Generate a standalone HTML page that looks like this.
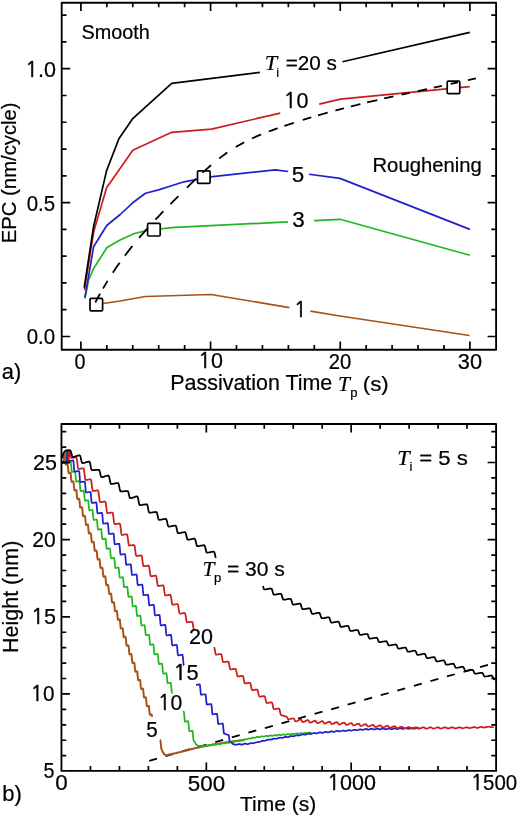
<!DOCTYPE html>
<html><head><meta charset="utf-8"><title>EPC vs passivation time</title>
<style>html,body{margin:0;padding:0;background:#fff;width:520px;height:818px;overflow:hidden}svg{display:block}</style>
</head><body>
<svg width="520" height="818" viewBox="0 0 520 818">
<rect width="520" height="818" fill="#fff"/>
<polyline points="93.6,305 106.6,303 120,301 145.5,296.5 210.9,294.5 289.4,307.57" fill="none" stroke="#a8521a" stroke-width="1.7" stroke-linejoin="round"/>
<polyline points="310.3,311.05 340,316 469.5,335.5" fill="none" stroke="#a8521a" stroke-width="1.7" stroke-linejoin="round"/>
<polyline points="84.9,298.6 88.6,280 93.6,268.5 107,247.5 119.6,240.2 134.4,233.5 146.2,230.6 171.5,227.6 210.4,225.7 287.9,221.87" fill="none" stroke="#20b820" stroke-width="1.7" stroke-linejoin="round"/>
<polyline points="314.1,220.58 340,219.3 469.9,255.2" fill="none" stroke="#20b820" stroke-width="1.7" stroke-linejoin="round"/>
<polyline points="84.9,297.6 93.6,246.8 106.7,225.5 120.2,214.5 132.7,202.8 145.5,193.2 158.5,189.9 171.5,185.8 184,181.8 210.4,176.8 275.3,169.8 288.2,171.51" fill="none" stroke="#2020cc" stroke-width="1.7" stroke-linejoin="round"/>
<polyline points="309,174.28 340,178.4 469.9,229.4" fill="none" stroke="#2020cc" stroke-width="1.7" stroke-linejoin="round"/>
<polyline points="84.5,290 93.6,232 106.6,187.8 132.8,150.3 171.7,132.3 211.5,129.1 280.3,113.1" fill="none" stroke="#cc1c1c" stroke-width="1.7" stroke-linejoin="round"/>
<polyline points="319.2,104.05 340.5,99.1 469.7,86.6" fill="none" stroke="#cc1c1c" stroke-width="1.7" stroke-linejoin="round"/>
<polyline points="84.2,287.6 93.6,226.5 106.6,170.6 118.9,138.8 133,118.3 171.7,83.4 259.9,72.36" fill="none" stroke="#000" stroke-width="1.7" stroke-linejoin="round"/>
<polyline points="342.5,61.77 469.8,32.4" fill="none" stroke="#000" stroke-width="1.7" stroke-linejoin="round"/>
<rect x="90" y="298.3" width="12.6" height="12.6" rx="1.2" fill="#fff" stroke="#000" stroke-width="1.7"/>
<rect x="147.6" y="223.4" width="12.6" height="12.6" rx="1.2" fill="#fff" stroke="#000" stroke-width="1.7"/>
<rect x="197.5" y="170.8" width="12.6" height="12.6" rx="1.2" fill="#fff" stroke="#000" stroke-width="1.7"/>
<rect x="447.2" y="81.1" width="12.6" height="12.6" rx="1.2" fill="#fff" stroke="#000" stroke-width="1.7"/>
<path d="M95.3,302.47 L96.9,299.45 L98.5,296.5 L100.1,293.61 M103,288.54 L104.53,285.93 L106.07,283.37 L107.6,280.87 M112.8,272.73 L114.18,270.65 L115.56,268.61 L116.94,266.61 L118.32,264.63 L119.7,262.69 M124.9,255.61 L126.15,253.96 L127.4,252.34 L128.65,250.73 L129.9,249.14 L131.15,247.57 L132.4,246.01 M139.2,237.8 L140.39,236.41 L141.57,235.03 L142.76,233.66 L143.94,232.3 L145.13,230.96 L146.31,229.62 L147.5,228.3 M155.4,219.69 L156.54,218.47 L157.69,217.26 L158.83,216.06 L159.97,214.86 L161.11,213.67 L162.26,212.49 L163.4,211.31 M170.4,204.16 L171.54,203.01 L172.69,201.86 L173.83,200.71 L174.97,199.56 L176.11,198.42 L177.26,197.27 L178.4,196.13 M186.9,187.69 L188.08,186.53 L189.25,185.38 L190.43,184.23 L191.6,183.09 L192.78,181.95 L193.95,180.82 L195.12,179.69 L196.3,178.57 M202.5,172.78 L203.73,171.66 L204.96,170.55 L206.19,169.44 L207.41,168.35 L208.64,167.27 L209.87,166.2 L211.1,165.15 M219.2,158.5 L220.36,157.6 L221.51,156.72 L222.67,155.85 L223.83,154.99 L224.99,154.15 L226.14,153.32 L227.3,152.51 M235.8,147.02 L237,146.3 L238.2,145.6 L239.4,144.92 L240.6,144.25 L241.8,143.59 L243,142.94 L244.2,142.31 M251.9,138.51 L253.06,137.98 L254.22,137.45 L255.39,136.94 L256.55,136.43 L257.71,135.93 L258.88,135.43 L260.04,134.95 L261.2,134.47 M268.8,131.5 L270.07,131.02 L271.34,130.55 L272.61,130.09 L273.89,129.63 L275.16,129.17 L276.43,128.72 L277.7,128.27 M284.4,125.95 L285.6,125.54 L286.8,125.13 L288,124.73 L289.2,124.33 L290.4,123.93 L291.6,123.54 L292.8,123.14 L294,122.75 M302.7,119.99 L303.93,119.6 L305.16,119.22 L306.39,118.85 L307.61,118.47 L308.84,118.1 L310.07,117.73 L311.3,117.36 M318,115.38 L319.21,115.03 L320.43,114.68 L321.64,114.34 L322.85,113.99 L324.06,113.65 L325.27,113.31 L326.49,112.97 L327.7,112.63 M335.4,110.52 L336.63,110.19 L337.86,109.86 L339.09,109.54 L340.31,109.21 L341.54,108.89 L342.77,108.57 L344,108.25 M350.8,106.5 L352,106.2 L353.2,105.9 L354.4,105.6 L355.6,105.3 L356.8,105 L358,104.7 L359.2,104.41 L360.4,104.11 M367.1,102.49 L368.23,102.22 L369.37,101.95 L370.5,101.68 L371.63,101.41 L372.77,101.14 L373.9,100.88 L375.03,100.61 L376.17,100.35 L377.3,100.08 M384.2,98.49 L385.36,98.23 L386.52,97.96 L387.69,97.7 L388.85,97.44 L390.01,97.18 L391.18,96.91 L392.34,96.65 L393.5,96.39 M401.6,94.6 L402.76,94.34 L403.91,94.09 L405.07,93.83 L406.23,93.58 L407.39,93.33 L408.54,93.07 L409.7,92.82 M417.7,91.09 L418.86,90.84 L420.02,90.59 L421.19,90.34 L422.35,90.08 L423.51,89.83 L424.68,89.58 L425.84,89.33 L427,89.09 M433.9,87.6 L435.04,87.36 L436.19,87.11 L437.33,86.87 L438.47,86.62 L439.61,86.38 L440.76,86.13 L441.9,85.89 M450.7,83.99 L451.92,83.73 L453.13,83.46 L454.35,83.2 L455.57,82.94 L456.78,82.67 L458,82.41 M467.9,80.23 L469.04,79.98 L470.19,79.73 L471.33,79.47 L472.47,79.22 L473.61,78.96 L474.76,78.71 L475.9,78.45" fill="none" stroke="#000" stroke-width="1.8"/>
<rect x="61.7" y="2.7" width="434.4" height="347" fill="none" stroke="#000" stroke-width="1.85" stroke-linejoin="round"/>
<path d="M80.9,349.7v-8.2M80.9,2.7v8.2M106.83,349.7v-4.6M106.83,2.7v4.6M132.77,349.7v-4.6M132.77,2.7v4.6M158.7,349.7v-4.6M158.7,2.7v4.6M184.64,349.7v-4.6M184.64,2.7v4.6M210.57,349.7v-8.2M210.57,2.7v8.2M236.5,349.7v-4.6M236.5,2.7v4.6M262.44,349.7v-4.6M262.44,2.7v4.6M288.37,349.7v-4.6M288.37,2.7v4.6M314.31,349.7v-4.6M314.31,2.7v4.6M340.24,349.7v-8.2M340.24,2.7v8.2M366.17,349.7v-4.6M366.17,2.7v4.6M392.11,349.7v-4.6M392.11,2.7v4.6M418.04,349.7v-4.6M418.04,2.7v4.6M443.98,349.7v-4.6M443.98,2.7v4.6M469.91,349.7v-8.2M469.91,2.7v8.2M61.7,336.5h8.5M496.1,336.5h-8.5M61.7,309.72h4.8M496.1,309.72h-4.8M61.7,282.94h4.8M496.1,282.94h-4.8M61.7,256.16h4.8M496.1,256.16h-4.8M61.7,229.38h4.8M496.1,229.38h-4.8M61.7,202.6h8.5M496.1,202.6h-8.5M61.7,175.82h4.8M496.1,175.82h-4.8M61.7,149.04h4.8M496.1,149.04h-4.8M61.7,122.26h4.8M496.1,122.26h-4.8M61.7,95.48h4.8M496.1,95.48h-4.8M61.7,68.7h8.5M496.1,68.7h-8.5M61.7,41.92h4.8M496.1,41.92h-4.8M61.7,15.14h4.8M496.1,15.14h-4.8" stroke="#000" stroke-width="1.7" fill="none"/>
<line x1="149.2" y1="760.8" x2="496" y2="662.6" stroke="#000" stroke-width="1.8" stroke-dasharray="8.2 9.0" stroke-dashoffset="0.12"/>
<polyline points="62,462.3 63.9,462.3 64.35,452.98 64.6,452.68 64.6,452.68 64.9,454.41 65.2,458.59 65.5,462.76 65.8,464.49 66.08,464.47 66.37,464.39 66.65,464.29 66.93,464.19 67.22,464.12 67.5,464.09 67.5,464.09 67.8,465.41 68.1,468.61 68.4,471.8 68.7,473.13 68.98,473.1 69.27,473.03 69.55,472.93 69.83,472.83 70.12,472.75 70.4,472.73 70.4,472.73 70.7,474.05 71,477.24 71.3,480.44 71.6,481.76 71.88,481.73 72.17,481.66 72.45,481.56 72.73,481.46 73.02,481.39 73.3,481.36 73.3,481.36 73.6,482.68 73.9,485.88 74.2,489.07 74.5,490.39 74.78,490.37 75.07,490.29 75.35,490.19 75.63,490.09 75.92,490.02 76.2,489.99 76.2,489.99 76.5,491.32 76.8,494.51 77.1,497.7 77.4,499.03 77.68,499 77.97,498.93 78.25,498.83 78.53,498.73 78.82,498.65 79.1,498.63 79.1,498.63 79.4,499.95 79.7,503.14 80,506.34 80.3,507.66 80.58,507.63 80.87,507.56 81.15,507.46 81.43,507.36 81.72,507.29 82,507.26 82,507.26 82.3,508.58 82.6,511.78 82.9,514.97 83.2,516.29 83.48,516.27 83.77,516.19 84.05,516.09 84.33,515.99 84.62,515.92 84.9,515.89 84.9,515.89 85.2,517.22 85.5,520.41 85.8,523.6 86.1,524.93 86.38,524.9 86.67,524.83 86.95,524.73 87.23,524.63 87.52,524.55 87.8,524.53 87.8,524.53 88.1,525.85 88.4,529.04 88.7,532.24 89,533.56 89.28,533.53 89.57,533.46 89.85,533.36 90.13,533.26 90.42,533.19 90.7,533.16 90.7,533.16 91,534.48 91.3,537.68 91.6,540.87 91.9,542.19 92.18,542.17 92.47,542.09 92.75,541.99 93.03,541.89 93.32,541.82 93.6,541.79 93.6,541.79 93.9,543.12 94.2,546.31 94.5,549.5 94.8,550.83 95.08,550.8 95.37,550.73 95.65,550.63 95.93,550.53 96.22,550.45 96.5,550.43 96.5,550.43 96.8,551.75 97.1,554.94 97.4,558.14 97.7,559.46 97.98,559.43 98.27,559.36 98.55,559.26 98.83,559.16 99.12,559.09 99.4,559.06 99.4,559.06 99.7,560.38 100,563.58 100.3,566.77 100.6,568.09 100.88,568.07 101.17,567.99 101.45,567.89 101.73,567.79 102.02,567.72 102.3,567.69 102.3,567.69 102.6,569.02 102.9,572.21 103.2,575.4 103.5,576.73 103.78,576.7 104.07,576.63 104.35,576.53 104.63,576.43 104.92,576.35 105.2,576.33 105.2,576.33 105.5,577.65 105.8,580.84 106.1,584.04 106.4,585.36 106.68,585.33 106.97,585.26 107.25,585.16 107.53,585.06 107.82,584.99 108.1,584.96 108.1,584.96 108.4,586.28 108.7,589.48 109,592.67 109.3,593.99 109.58,593.97 109.87,593.89 110.15,593.79 110.43,593.69 110.72,593.62 111,593.59 111,593.59 111.3,594.92 111.6,598.11 111.9,601.3 112.2,602.63 112.48,602.6 112.77,602.53 113.05,602.43 113.33,602.33 113.62,602.25 113.9,602.23 113.9,602.23 114.2,603.55 114.5,606.74 114.8,609.94 115.1,611.26 115.38,611.23 115.67,611.16 115.95,611.06 116.23,610.96 116.52,610.89 116.8,610.86 116.8,610.86 117.1,612.18 117.4,615.38 117.7,618.57 118,619.89 118.28,619.87 118.57,619.79 118.85,619.69 119.13,619.59 119.42,619.52 119.7,619.49 119.7,619.49 120,620.82 120.3,624.01 120.6,627.2 120.9,628.53 121.18,628.5 121.47,628.43 121.75,628.33 122.03,628.23 122.32,628.15 122.6,628.13 122.6,628.13 122.9,629.45 123.2,632.64 123.5,635.84 123.8,637.16 124.08,637.13 124.37,637.06 124.65,636.96 124.93,636.86 125.22,636.79 125.5,636.76 125.5,636.76 125.8,638.08 126.1,641.28 126.4,644.47 126.7,645.79 126.98,645.77 127.27,645.69 127.55,645.59 127.83,645.49 128.12,645.42 128.4,645.39 128.4,645.39 128.7,646.72 129,649.91 129.3,653.11 129.6,654.43 129.88,654.4 130.17,654.33 130.45,654.23 130.73,654.13 131.02,654.05 131.3,654.03 131.3,654.03 131.6,655.35 131.9,658.54 132.2,661.74 132.5,663.06 132.78,663.03 133.07,662.96 133.35,662.86 133.63,662.76 133.92,662.69 134.2,662.66 134.2,662.66 134.5,663.98 134.8,667.18 135.1,670.37 135.4,671.69 135.68,671.67 135.97,671.59 136.25,671.49 136.53,671.39 136.82,671.32 137.1,671.29 137.1,671.29 137.4,672.62 137.7,675.81 138,679.01 138.3,680.33 138.58,680.3 138.87,680.23 139.15,680.13 139.43,680.03 139.72,679.96 140,679.93 140,679.93 140.3,681.25 140.6,684.45 140.9,687.64 141.2,688.96 141.48,688.94 141.77,688.86 142.05,688.76 142.33,688.66 142.62,688.59 142.9,688.56 142.9,688.56 143.2,689.88 143.5,693.08 143.8,696.27 144.1,697.6 144.38,697.57 144.67,697.5 144.95,697.4 145.23,697.3 145.52,697.22 145.8,697.2 145.8,697.2 146.1,698.52 146.4,701.71 146.7,704.91 147,706.23 147.28,706.2 147.57,706.13 147.85,706.03 148.13,705.93 148.42,705.86 148.7,705.83 148.7,705.83 149,707.15 149.3,710.35 149.6,713.54 149.9,714.86 150.18,714.84 150.47,714.76 150.75,714.66 151.03,714.56 151.32,714.49 151.6,714.46 151.6,714.46 151.9,715.79 152,716.85" fill="none" stroke="#a8521a" stroke-width="2.0" stroke-linejoin="round" stroke-linecap="butt"/>
<polyline points="160,740.39 160.02,740.39 160.3,740.36 160.3,740.36 160.6,741.69 160.9,744.88 161.2,748.07 161.5,749.4 161.78,749.6 162.07,750.17 162.35,750.95 162.63,751.72 162.92,752.29 163.2,752.5 163.2,752.5 163.5,752.8 163.8,753.51 164.1,754.23 164.4,754.53 164.68,754.57 164.97,754.67 165.25,754.82 165.53,754.97 165.82,755.07 166.1,755.11 166.1,755.11 166.4,755.12 166.7,755.14 167,755.16 167.3,755.16 167.58,755.12 167.87,754.99 168.15,754.82 168.43,754.65 168.72,754.52 169,754.47 169,754.47 169.3,754.48 169.6,754.49 169.9,754.51 170.2,754.51 170.48,754.47 170.77,754.34 171.05,754.17 171.33,754 171.62,753.87 171.9,753.82 171.9,753.82 172.2,753.83 172.5,753.84 172.8,753.85 173.1,753.85 173.38,753.8 173.67,753.68 173.95,753.51 174.23,753.34 174.52,753.21 174.8,753.16 174.8,753.16 175.1,753.17 175.4,753.17 175.7,753.17 176,753.17 176.28,753.13 176.57,753 176.85,752.83 177.13,752.66 177.42,752.54 177.7,752.49 177.7,752.49 178,752.49 178.3,752.49 178.6,752.49 178.9,752.49 179.18,752.45 179.47,752.32 179.75,752.16 180.03,751.99 180.32,751.87 180.6,751.83 180.6,751.83 180.9,751.82 181.2,751.8 181.5,751.79 181.8,751.78 182.08,751.74 182.37,751.62 182.65,751.45 182.93,751.29 183.22,751.16 183.5,751.12 183.5,751.12 183.8,751.11 184.1,751.08 184.4,751.05 184.7,751.03 184.98,750.99 185.27,750.87 185.55,750.7 185.83,750.53 186.12,750.41 186.4,750.36 186.4,750.36 186.7,750.35 187,750.31 187.3,750.28 187.6,750.26 187.88,750.22 188.17,750.09 188.45,749.92 188.73,749.75 189.02,749.63 189.3,749.58 189.3,749.58 189.6,749.57 189.9,749.54 190.2,749.51 190.5,749.5 190.78,749.45 191.07,749.32 191.35,749.15 191.63,748.98 191.92,748.85 192.2,748.81 192.2,748.81 192.5,748.8 192.8,748.78 193.1,748.77 193.4,748.76 193.68,748.71 193.97,748.58 194.25,748.41 194.53,748.24 194.82,748.11 195.1,748.06 195.1,748.06 195.4,748.06 195.7,748.07 196,748.07 196.3,748.08 196.58,748.03 196.87,747.9 197.15,747.73 197.43,747.56 197.72,747.43 198,747.38 198,747.38 198.3,747.4 198.6,747.42 198.9,747.45 199.2,747.46 199.48,747.42 199.77,747.3 200.05,747.13 200.33,746.96 200.62,746.84 200.9,746.8 200.9,746.8 201.2,746.81 201.5,746.84 201.8,746.87 202.1,746.88 202.38,746.84 202.67,746.72 202.95,746.55 203.23,746.39 203.52,746.27 203.8,746.22 203.8,746.22 204.1,746.24 204.4,746.27 204.7,746.3 205,746.31 205.28,746.27 205.57,746.15 205.85,745.98 206.13,745.82 206.42,745.7 206.7,745.66 206.7,745.66 207,745.67 207.3,745.7 207.6,745.74 207.9,745.75 208.18,745.71 208.47,745.59 208.75,745.43 209.03,745.26 209.32,745.14 209.6,745.1 209.6,745.1 209.9,745.12 210.2,745.15 210.5,745.19 210.8,745.21 211.08,745.16 211.37,745.04 211.65,744.88 211.93,744.72 212.22,744.6 212.5,744.56 212.5,744.56 212.8,744.57 213.1,744.61 213.4,744.66 213.7,744.67 213.98,744.63 214.27,744.51 214.55,744.35 214.83,744.19 215.12,744.07 215.4,744.03 215.4,744.03 215.7,744.04 216,744.09 216.3,744.14 216.6,744.15 216.88,744.11 217.17,743.99 217.45,743.83 217.73,743.67 218.02,743.55 218.3,743.51 218.3,743.51 218.6,743.53 218.9,743.58 219.2,743.63 219.5,743.65 219.78,743.61 220.07,743.49 220.35,743.33 220.63,743.17 220.92,743.06 221.2,743.01 221.2,743.01 221.5,743.04 221.8,743.09 222.1,743.15 222.4,743.17 222.68,743.13 222.97,743.01 223.25,742.85 223.53,742.69 223.82,742.58 224.1,742.53 224.1,742.53 224.4,742.56 224.7,742.62 225,742.68 225.3,742.71 225.58,742.67 225.87,742.55 226.15,742.39 226.43,742.23 226.72,742.12 227,742.07 227,742.07 227.3,742.1 227.6,742.17 227.9,742.24 228.2,742.27 228.48,742.23 228.77,742.11 229.05,741.95 229.33,741.79 229.62,741.68 229.9,741.64 229.9,741.64 230.2,741.67 230.5,741.74 230.8,741.82 231.1,741.85 231.38,741.81 231.67,741.69 231.95,741.54 232.23,741.38 232.52,741.26 232.8,741.22 232.8,741.22 233.1,741.26 233.4,741.34 233.7,741.42 234,741.46 234.28,741.42 234.57,741.3 234.85,741.14 235.13,740.99 235.42,740.87 235.7,740.83 235.7,740.83 236,740.87 236.3,740.96 236.6,741.05 236.9,741.09 237.18,741.05 237.47,740.94 237.75,740.78 238.03,740.62 238.32,740.51 238.6,740.47 238.6,740.47 238.9,740.51 239.2,740.61 239.5,740.71 239.8,740.76 240.08,740.71 240.37,740.6 240.65,740.44 240.93,740.29 241.22,740.18 241.5,740.13 241.5,740.13 241.8,740.18 242.1,740.29 242.4,740.4 242.7,740.45 242.98,740.41 243.27,740.29 243.55,740.14 243.83,739.98 244.12,739.87 244.4,739.83 244.4,739.83 244.7,739.88" fill="none" stroke="#a8521a" stroke-width="2.0" stroke-linejoin="round" stroke-linecap="butt"/>
<polyline points="62,462.3 65.6,462.3 66.05,451.79 66.3,451.49 66.3,451.49 66.62,453.08 66.95,456.92 67.27,460.76 67.6,462.35 68.11,462.31 68.62,462.22 69.12,462.1 69.63,461.97 70.14,461.88 70.65,461.85 70.65,461.85 70.97,463.33 71.3,466.9 71.62,470.47 71.95,471.95 72.46,471.92 72.97,471.83 73.47,471.7 73.98,471.58 74.49,471.49 75,471.45 75,471.45 75.32,472.93 75.65,476.51 75.97,480.08 76.3,481.56 76.81,481.53 77.32,481.43 77.82,481.31 78.33,481.18 78.84,481.09 79.35,481.06 79.35,481.06 79.67,482.54 80,486.11 80.32,489.68 80.65,491.16 81.16,491.13 81.67,491.04 82.17,490.91 82.68,490.79 83.19,490.7 83.7,490.66 83.7,490.66 84.02,492.14 84.35,495.72 84.67,499.29 85,500.77 85.51,500.74 86.02,500.64 86.52,500.52 87.03,500.39 87.54,500.3 88.05,500.27 88.05,500.27 88.37,501.75 88.7,505.32 89.02,508.89 89.35,510.37 89.86,510.34 90.37,510.25 90.87,510.12 91.38,510 91.89,509.91 92.4,509.87 92.4,509.87 92.72,511.35 93.05,514.93 93.37,518.5 93.7,519.98 94.21,519.95 94.72,519.85 95.22,519.73 95.73,519.6 96.24,519.51 96.75,519.48 96.75,519.48 97.07,520.96 97.4,524.53 97.72,528.11 98.05,529.59 98.56,529.55 99.07,529.46 99.57,529.34 100.08,529.21 100.59,529.12 101.1,529.09 101.1,529.09 101.42,530.57 101.75,534.14 102.07,537.71 102.4,539.19 102.91,539.16 103.42,539.07 103.92,538.94 104.43,538.82 104.94,538.72 105.45,538.69 105.45,538.69 105.77,540.17 106.1,543.74 106.42,547.32 106.75,548.8 107.26,548.76 107.77,548.67 108.27,548.55 108.78,548.42 109.29,548.33 109.8,548.3 109.8,548.3 110.12,549.78 110.45,553.35 110.77,556.92 111.1,558.4 111.61,558.37 112.12,558.28 112.62,558.15 113.13,558.03 113.64,557.93 114.15,557.9 114.15,557.9 114.47,559.38 114.8,562.95 115.12,566.53 115.45,568.01 115.96,567.97 116.47,567.88 116.97,567.76 117.48,567.63 117.99,567.54 118.5,567.51 118.5,567.51 118.82,568.99 119.15,572.56 119.47,576.13 119.8,577.61 120.31,577.58 120.82,577.49 121.32,577.36 121.83,577.24 122.34,577.15 122.85,577.11 122.85,577.11 123.17,578.59 123.5,582.16 123.82,585.74 124.15,587.22 124.66,587.18 125.17,587.09 125.67,586.97 126.18,586.84 126.69,586.75 127.2,586.72 127.2,586.72 127.52,588.2 127.85,591.77 128.17,595.34 128.5,596.82 129.01,596.79 129.52,596.7 130.02,596.57 130.53,596.45 131.04,596.36 131.55,596.32 131.55,596.32 131.87,597.8 132.2,601.38 132.52,604.95 132.85,606.43 133.36,606.39 133.87,606.3 134.37,606.18 134.88,606.05 135.39,605.96 135.9,605.93 135.9,605.93 136.22,607.41 136.55,610.98 136.87,614.55 137.2,616.03 137.71,616 138.22,615.91 138.72,615.78 139.23,615.66 139.74,615.57 140.25,615.53 140.25,615.53 140.57,617.01 140.9,620.59 141.22,624.16 141.55,625.64 142.06,625.6 142.57,625.51 143.07,625.39 143.58,625.26 144.09,625.17 144.6,625.14 144.6,625.14 144.92,626.62 145.25,630.19 145.57,633.76 145.9,635.24 146.41,635.21 146.92,635.12 147.42,634.99 147.93,634.87 148.44,634.78 148.95,634.74 148.95,634.74 149.27,636.22 149.6,639.8 149.92,643.37 150.25,644.85 150.76,644.82 151.27,644.72 151.77,644.6 152.28,644.47 152.79,644.38 153.3,644.35 153.3,644.35 153.62,645.83 153.95,649.4 154.27,652.97 154.6,654.45 155.11,654.42 155.62,654.33 156.12,654.2 156.63,654.08 157.14,653.99 157.65,653.95 157.65,653.95 157.97,655.43 158.3,659.01 158.62,662.58 158.95,664.06 159.46,664.03 159.97,663.93 160.47,663.81 160.98,663.68 161.49,663.59 162,663.56 162,663.56 162.32,665.04 162.65,668.61 162.97,672.19 163.3,673.66 163.81,673.63 164.32,673.54 164.82,673.41 165.33,673.29 165.84,673.2 166.35,673.16 166.35,673.16 166.67,674.64 167,678.22 167.32,681.79 167.65,683.27 168.16,683.24 168.67,683.15 169.17,683.02 169.68,682.9 170.19,682.8 170.7,682.77 170.7,682.77 171.02,684.25 171.35,687.82 171.67,691.4 172,692.88 172.51,692.84 172.8,692.79" fill="none" stroke="#20b820" stroke-width="1.75" stroke-linejoin="round" stroke-linecap="butt"/>
<polyline points="182.8,711.7 183.24,711.62 183.75,711.59 183.75,711.59 184.07,713.07 184.4,716.64 184.72,720.21 185.05,721.69 185.56,721.66 186.07,721.57 186.57,721.44 187.08,721.32 187.59,721.22 188.1,721.19 188.1,721.19 188.42,722.67 188.75,726.24 189.07,729.82 189.4,731.3 189.91,731.26 190.42,731.17 190.92,731.05 191.43,730.92 191.94,730.83 192.45,730.8 192.45,730.8 192.77,732.28 193.1,735.85 193.42,739.42 193.75,740.9 194.26,741.17 194.77,741.91 195.27,742.92 195.78,743.92 196.29,744.66 196.8,744.93 196.8,744.93 197.12,745.08 197.45,745.45 197.77,745.83 198.1,745.98 198.61,745.96 199.12,745.92 199.62,745.86 200.13,745.8 200.64,745.76 201.15,745.74 201.15,745.74 201.47,745.82 201.8,746.01 202.12,746.19 202.45,746.27 202.96,746.21 203.47,746.03 203.97,745.79 204.48,745.54 204.99,745.37 205.5,745.3 205.5,745.3 205.82,745.37 206.15,745.55 206.47,745.72 206.8,745.79 207.31,745.72 207.82,745.55 208.32,745.31 208.83,745.06 209.34,744.89 209.85,744.82 209.85,744.82 210.17,744.89 210.5,745.04 210.82,745.2 211.15,745.27 211.66,745.2 212.17,745.03 212.67,744.79 213.18,744.55 213.69,744.37 214.2,744.31 214.2,744.31 214.52,744.37 214.85,744.51 215.17,744.65 215.5,744.71 216.01,744.64 216.52,744.47 217.02,744.23 217.53,743.99 218.04,743.82 218.55,743.76 218.55,743.76 218.87,743.81 219.2,743.94 219.52,744.07 219.85,744.12 220.36,744.06 220.87,743.88 221.37,743.65 221.88,743.41 222.39,743.24 222.9,743.17 222.9,743.17 223.22,743.22 223.55,743.34 223.87,743.45 224.2,743.5 224.71,743.44 225.22,743.27 225.72,743.04 226.23,742.8 226.74,742.63 227.25,742.57 227.25,742.57 227.57,742.61 227.9,742.71 228.22,742.81 228.55,742.85 229.06,742.79 229.57,742.63 230.07,742.41 230.58,742.19 231.09,742.03 231.6,741.97 231.6,741.97 231.92,741.99 232.25,742.04 232.57,742.09 232.9,742.11 233.41,742.05 233.92,741.89 234.42,741.67 234.93,741.44 235.44,741.28 235.95,741.22 235.95,741.22 236.27,741.23 236.6,741.24 236.92,741.25 237.25,741.26 237.76,741.2 238.27,741.03 238.77,740.8 239.28,740.58 239.79,740.41 240.3,740.35 240.3,740.35 240.62,740.35 240.95,740.35 241.27,740.35 241.6,740.35 242.11,740.28 242.62,740.11 243.12,739.88 243.63,739.65 244.14,739.48 244.65,739.41 244.65,739.41 244.97,739.42 245.3,739.42 245.62,739.43 245.95,739.43 246.46,739.36 246.97,739.19 247.47,738.95 247.98,738.71 248.49,738.54 249,738.47 249,738.47 249.32,738.49 249.65,738.52 249.97,738.55 250.3,738.56 250.81,738.49 251.32,738.32 251.82,738.07 252.33,737.83 252.84,737.65 253.35,737.58 253.35,737.58 253.67,737.62 254,737.69 254.32,737.77 254.65,737.8 255.16,737.74 255.67,737.56 256.17,737.31 256.68,737.07 257.19,736.89 257.7,736.82 257.7,736.82 258.02,736.88 258.35,737.01 258.67,737.14 259,737.2 259.51,737.14 260.02,736.97 260.52,736.74 261.03,736.5 261.54,736.33 262.05,736.27 262.05,736.27 262.37,736.34 262.7,736.49 263.02,736.65 263.35,736.71 263.86,736.65 264.37,736.49 264.87,736.26 265.38,736.03 265.89,735.87 266.4,735.81 266.4,735.81 266.72,735.88 267.05,736.05 267.37,736.22 267.7,736.29 268.21,736.23 268.72,736.07 269.22,735.84 269.73,735.62 270.24,735.46 270.75,735.4 270.75,735.4 271.07,735.47 271.4,735.65 271.72,735.83 272.05,735.91 272.56,735.85 273.07,735.69 273.57,735.47 274.08,735.25 274.59,735.09 275.1,735.03 275.1,735.03 275.42,735.1 275.75,735.29 276.07,735.48 276.4,735.55 276.91,735.5 277.42,735.34 277.92,735.12 278.43,734.91 278.94,734.75 279.45,734.69 279.45,734.69 279.77,734.77 280.1,734.95 280.42,735.14 280.75,735.22 281.26,735.16 281.77,735 282.27,734.79 282.78,734.58 283.29,734.42 283.8,734.37 283.8,734.37 284.12,734.44 284.45,734.63 284.77,734.81 285.1,734.88 285.61,734.83 286.12,734.67 286.62,734.46 287.13,734.25 287.64,734.1 288.15,734.04 288.15,734.04 288.47,734.12 288.8,734.29 289.12,734.47 289.45,734.55 289.96,734.49 290.47,734.33 290.97,734.12 291.48,733.91 291.99,733.76 292.5,733.7 292.5,733.7 292.82,733.78 293.15,733.95 293.47,734.13 293.8,734.21 294.31,734.15 294.82,734 295.32,733.79 295.83,733.58 296.34,733.43 296.85,733.37 296.85,733.37 297.17,733.45 297.5,733.63 297.82,733.8 298.15,733.88 298.66,733.82 299.17,733.67 299.67,733.46 300.18,733.26 300.69,733.11 301.2,733.05 301.2,733.05 301.52,733.13 301.85,733.31 302.18,733.49 302.5,733.56 303.01,733.51 303.52,733.36 304.02,733.15 304.53,732.95 305.04,732.8 305.55,732.74 305.55,732.74 305.88,732.82 306.2,733 306.53,733.18 306.85,733.25 307.36,733.2 307.87,733.05 308.38,732.85 308.88,732.64 309.39,732.49 309.9,732.44 309.9,732.44 310.23,732.52 310.55,732.7 310.88,732.88 311.2,732.95 311.71,732.9" fill="none" stroke="#20b820" stroke-width="1.75" stroke-linejoin="round" stroke-linecap="butt"/>
<polyline points="62,462.3 66.8,462.3 67.25,451.63 67.5,451.33 67.5,451.33 67.83,452.74 68.15,456.15 68.47,459.56 68.8,460.97 69.54,460.94 70.28,460.85 71.02,460.73 71.77,460.61 72.51,460.52 73.25,460.49 73.25,460.49 73.58,462.1 73.9,466 74.22,469.9 74.55,471.51 75.29,471.48 76.03,471.39 76.77,471.27 77.52,471.15 78.26,471.06 79,471.03 79,471.03 79.33,472.64 79.65,476.52 79.97,480.4 80.3,482.01 81.04,481.98 81.78,481.89 82.52,481.77 83.27,481.65 84.01,481.56 84.75,481.53 84.75,481.53 85.08,483.13 85.4,487.01 85.72,490.88 86.05,492.48 86.79,492.45 87.53,492.36 88.27,492.24 89.02,492.12 89.76,492.03 90.5,492 90.5,492 90.83,493.6 91.15,497.45 91.47,501.31 91.8,502.91 92.54,502.88 93.28,502.79 94.02,502.67 94.77,502.55 95.51,502.46 96.25,502.43 96.25,502.43 96.58,504.02 96.9,507.87 97.22,511.71 97.55,513.31 98.29,513.27 99.03,513.19 99.77,513.07 100.52,512.94 101.26,512.86 102,512.82 102,512.82 102.33,514.41 102.65,518.25 102.97,522.08 103.3,523.67 104.04,523.63 104.78,523.55 105.52,523.43 106.27,523.3 107.01,523.22 107.75,523.18 107.75,523.18 108.08,524.77 108.4,528.59 108.72,532.41 109.05,533.99 109.79,533.96 110.53,533.87 111.27,533.75 112.02,533.63 112.76,533.54 113.5,533.51 113.5,533.51 113.83,535.09 114.15,538.9 114.47,542.71 114.8,544.28 115.54,544.25 116.28,544.16 117.02,544.04 117.77,543.92 118.51,543.83 119.25,543.8 119.25,543.8 119.58,545.37 119.9,549.17 120.22,552.97 120.55,554.54 121.29,554.51 122.03,554.42 122.77,554.3 123.52,554.18 124.26,554.09 125,554.06 125,554.06 125.33,555.63 125.65,559.41 125.97,563.2 126.3,564.76 127.04,564.73 127.78,564.64 128.53,564.52 129.27,564.4 130.01,564.31 130.75,564.28 130.75,564.28 131.07,565.84 131.4,569.62 131.72,573.39 132.05,574.95 132.79,574.92 133.53,574.83 134.28,574.71 135.02,574.59 135.76,574.5 136.5,574.47 136.5,574.47 136.82,576.03 137.15,579.79 137.47,583.55 137.8,585.11 138.54,585.08 139.28,584.99 140.03,584.87 140.77,584.75 141.51,584.66 142.25,584.63 142.25,584.63 142.57,586.18 142.9,589.93 143.22,593.68 143.55,595.24 144.29,595.2 145.03,595.11 145.78,594.99 146.52,594.87 147.26,594.78 148,594.75 148,594.75 148.32,596.3 148.65,600.04 148.97,603.78 149.3,605.33 150.04,605.3 150.78,605.21 151.53,605.09 152.27,604.96 153.01,604.88 153.75,604.84 153.75,604.84 154.07,606.39 154.4,610.12 154.72,613.84 155.05,615.39 155.79,615.35 156.53,615.27 157.28,615.15 158.02,615.02 158.76,614.94 159.5,614.9 159.5,614.9 159.82,616.44 160.15,620.16 160.47,623.88 160.8,625.42 161.54,625.38 162.28,625.29 163.03,625.17 163.77,625.05 164.51,624.96 165.25,624.93 165.25,624.93 165.57,626.47 165.9,630.17 166.22,633.88 166.55,635.41 167.29,635.38 168.03,635.29 168.78,635.17 169.52,635.05 170.26,634.96 171,634.93 171,634.93 171.32,636.46 171.65,640.15 171.97,643.85 172.3,645.38 173.04,645.34 173.78,645.26 174.53,645.13 175.27,645.01 176.01,644.92 176.75,644.89 176.75,644.89 177.07,646.42 177.4,650.1 177.72,653.78 178.05,655.31 178.79,655.28 179.53,655.19 180.28,655.07 181.02,654.95 181.76,654.86 182.5,654.83 182.5,654.83 182.82,656.35 183.15,660.02 183.47,663.69 183.8,665.21 183.9,665.21" fill="none" stroke="#2020cc" stroke-width="1.75" stroke-linejoin="round" stroke-linecap="butt"/>
<polyline points="196,684.9 196.04,684.9 196.78,684.81 197.53,684.69 198.27,684.57 199.01,684.48 199.75,684.45 199.75,684.45 200.07,685.95 200.4,689.59 200.72,693.24 201.05,694.74 201.79,694.71 202.53,694.62 203.28,694.5 204.02,694.38 204.76,694.29 205.5,694.26 205.5,694.26 205.82,695.76 206.15,699.39 206.47,703.02 206.8,704.53 207.54,704.49 208.28,704.41 209.03,704.28 209.77,704.16 210.51,704.07 211.25,704.04 211.25,704.04 211.57,705.54 211.9,709.16 212.22,712.78 212.55,714.28 213.29,714.25 214.03,714.16 214.78,714.04 215.52,713.92 216.26,713.83 217,713.8 217,713.8 217.32,715.29 217.65,718.9 217.97,722.51 218.3,724.01 219.04,723.97 219.78,723.89 220.53,723.76 221.27,723.64 222.01,723.55 222.75,723.52 222.75,723.52 223.07,725.01 223.4,728.61 223.72,732.21 224.05,733.7 224.79,733.78 225.53,734 226.28,734.3 227.02,734.6 227.76,734.82 228.5,734.9 228.5,734.9 228.82,735.89 229.15,738.29 229.47,740.7 229.8,741.69 230.54,741.88 231.28,742.39 232.03,743.08 232.77,743.78 233.51,744.29 234.25,744.47 234.25,744.47 234.57,744.51 234.9,744.59 235.22,744.68 235.55,744.71 236.29,744.67 237.03,744.53 237.78,744.35 238.52,744.16 239.26,744.03 240,743.98 240,743.98 240.32,744.09 240.65,744.34 240.97,744.59 241.3,744.69 242.04,744.62 242.78,744.42 243.53,744.14 244.27,743.86 245.01,743.66 245.75,743.59 245.75,743.59 246.07,743.67 246.4,743.86 246.72,744.05 247.05,744.13 247.79,744.07 248.53,743.9 249.28,743.66 250.02,743.43 250.76,743.25 251.5,743.19 251.5,743.19 251.82,743.2 252.15,743.23 252.47,743.26 252.8,743.27 253.54,743.2 254.28,743.01 255.03,742.75 255.77,742.49 256.51,742.31 257.25,742.24 257.25,742.24 257.57,742.21 257.9,742.15 258.23,742.08 258.55,742.06 259.29,741.98 260.03,741.76 260.78,741.46 261.52,741.16 262.26,740.94 263,740.86 263,740.86 263.32,740.85 263.65,740.82 263.98,740.79 264.3,740.78 265.04,740.7 265.78,740.47 266.53,740.15 267.27,739.83 268.01,739.6 268.75,739.52 268.75,739.52 269.07,739.54 269.4,739.61 269.73,739.67 270.05,739.69 270.79,739.62 271.53,739.4 272.28,739.11 273.02,738.82 273.76,738.61 274.5,738.53 274.5,738.53 274.82,738.57 275.15,738.65 275.48,738.74 275.8,738.78 276.54,738.7 277.28,738.49 278.03,738.21 278.77,737.93 279.51,737.72 280.25,737.64 280.25,737.64 280.57,737.68 280.9,737.78 281.23,737.88 281.55,737.93 282.29,737.85 283.03,737.65 283.78,737.37 284.52,737.1 285.26,736.89 286,736.82 286,736.82 286.32,736.86 286.65,736.96 286.98,737.07 287.3,737.11 288.04,737.04 288.78,736.84 289.53,736.57 290.27,736.3 291.01,736.1 291.75,736.03 291.75,736.03 292.07,736.07 292.4,736.17 292.73,736.27 293.05,736.31 293.79,736.23 294.53,736.04 295.28,735.77 296.02,735.5 296.76,735.3 297.5,735.23 297.5,735.23 297.82,735.27 298.15,735.37 298.48,735.47 298.8,735.51 299.54,735.44 300.28,735.24 301.03,734.97 301.77,734.7 302.51,734.5 303.25,734.43 303.25,734.43 303.57,734.48 303.9,734.59 304.23,734.7 304.55,734.74 305.29,734.67 306.03,734.47 306.78,734.2 307.52,733.93 308.26,733.73 309,733.66 309,733.66 309.32,733.72 309.65,733.85 309.98,733.98 310.3,734.03 311.04,733.96 311.78,733.76 312.53,733.49 313.27,733.22 314.01,733.02 314.75,732.95 314.75,732.95 315.07,733.02 315.4,733.17 315.73,733.33 316.05,733.4 316.79,733.32 317.53,733.13 318.28,732.87 319.02,732.6 319.76,732.41 320.5,732.34 320.5,732.34 320.82,732.41 321.15,732.59 321.48,732.77 321.8,732.84 322.54,732.77 323.28,732.59 324.03,732.33 324.77,732.07 325.51,731.88 326.25,731.81 326.25,731.81 326.57,731.89 326.9,732.08 327.23,732.27 327.55,732.35 328.29,732.28 329.03,732.1 329.78,731.84 330.52,731.59 331.26,731.41 332,731.34 332,731.34 332.32,731.42 332.65,731.62 332.98,731.82 333.3,731.9 334.04,731.84 334.78,731.65 335.53,731.4 336.27,731.15 337.01,730.97 337.75,730.91 337.75,730.91 338.07,730.99 338.4,731.19 338.73,731.4 339.05,731.48 339.79,731.42 340.53,731.24 341.28,730.99 342.02,730.75 342.76,730.57 343.5,730.5 343.5,730.5 343.82,730.59 344.15,730.79 344.48,731 344.8,731.08 345.54,731.02 346.28,730.84 347.03,730.61 347.77,730.37 348.51,730.19 349.25,730.13 349.25,730.13 349.57,730.21 349.9,730.41 350.23,730.6 350.55,730.68 351.29,730.62 352.03,730.45 352.78,730.21 353.52,729.97 354.26,729.8 355,729.73 355,729.73 355.32,729.81 355.65,730.01 355.98,730.2 356.3,730.28 357.04,730.22 357.78,730.04 358.53,729.8 359.27,729.56 360.01,729.38 360.75,729.31 360.75,729.31 361.07,729.4 361.4,729.62 361.73,729.84 362.05,729.93 362.79,729.86 363.53,729.68 364.28,729.44 365.02,729.19 365.76,729.01 366.5,728.95 366.5,728.95 366.82,729.05 367.15,729.31 367.48,729.56 367.8,729.67 368.54,729.61 369.28,729.44 370.03,729.2 370.77,728.97 371.51,728.8 372.25,728.73 372.25,728.73 372.57,728.85 372.9,729.12 373.23,729.39 373.55,729.5 374.29,729.44 375.03,729.27 375.78,729.04 376.52,728.82 377.26,728.65 378,728.59 378,728.59 378.32,728.7 378.65,728.98 378.98,729.25 379.3,729.37 380.04,729.31 380.78,729.15 381.53,728.92 382.27,728.7 383.01,728.54 383.75,728.48 383.75,728.48 384.07,728.59 384.4,728.87 384.73,729.15 385.05,729.26 385.79,729.2 386.53,729.04 387.28,728.82 388.02,728.61 388.76,728.45 389.5,728.39 389.5,728.39 389.82,728.5 390.15,728.77 390.48,729.05 390.8,729.16 391.54,729.1 392.28,728.94 393.03,728.73 393.77,728.52 394.51,728.36 395.25,728.3 395.25,728.3 395.57,728.41 395.9,728.68 396.23,728.94 396.55,729.05 397.29,728.99 398.03,728.84 398.78,728.63 399.52,728.42 400.26,728.26 401,728.2 401,728.2 401.32,728.31 401.65,728.57 401.98,728.82 402.3,728.93 403.04,728.87 403.78,728.72 404.53,728.51 405.27,728.3 406.01,728.15 406.75,728.1 406.75,728.1 407.07,728.2 407.4,728.45 407.73,728.7 408.05,728.81 408.79,728.75 409.53,728.6 410.28,728.4 411.02,728.19 411.76,728.04 412.5,727.99 412.5,727.99 412.82,728.09 413.15,728.34 413.48,728.58 413.8,728.69 414.54,728.63 415.28,728.49 416.03,728.28 416.77,728.08 417.51,727.93 418.25,727.88 418.25,727.88 418.57,727.98 418.9,728.22 419.23,728.47 419.55,728.57" fill="none" stroke="#2020cc" stroke-width="1.75" stroke-linejoin="round" stroke-linecap="butt"/>
<polyline points="62,462.3 68.4,462.3 68.85,451.53 69.1,451.23 69.1,451.23 69.6,452.22 70.1,454.6 70.6,456.98 71.1,457.97 71.97,457.93 72.85,457.81 73.72,457.64 74.59,457.48 75.47,457.36 76.34,457.31 76.34,457.31 76.84,459.01 77.34,463.11 77.84,467.21 78.34,468.91 79.21,468.87 80.09,468.75 80.96,468.6 81.83,468.44 82.71,468.32 83.58,468.28 83.58,468.28 84.08,469.99 84.58,474.11 85.08,478.24 85.58,479.94 86.45,479.9 87.33,479.79 88.2,479.64 89.07,479.49 89.95,479.37 90.82,479.33 90.82,479.33 91.32,481.05 91.82,485.18 92.32,489.31 92.82,491.02 93.69,490.98 94.57,490.87 95.44,490.73 96.31,490.58 97.19,490.47 98.06,490.43 98.06,490.43 98.56,492.14 99.06,496.27 99.56,500.39 100.06,502.1 100.93,502.06 101.81,501.96 102.68,501.82 103.55,501.67 104.43,501.57 105.3,501.53 105.3,501.53 105.8,503.23 106.3,507.33 106.8,511.43 107.3,513.13 108.17,513.09 109.05,512.99 109.92,512.86 110.79,512.72 111.67,512.62 112.54,512.58 112.54,512.58 113.04,514.27 113.54,518.33 114.04,522.39 114.54,524.07 115.41,524.03 116.29,523.94 117.16,523.8 118.03,523.67 118.91,523.58 119.78,523.54 119.78,523.54 120.28,525.2 120.78,529.21 121.28,533.22 121.78,534.88 122.65,534.84 123.53,534.75 124.4,534.62 125.27,534.49 126.15,534.4 127.02,534.37 127.02,534.37 127.52,536 128.02,539.94 128.52,543.88 129.02,545.52 129.89,545.48 130.77,545.39 131.64,545.27 132.51,545.15 133.39,545.06 134.26,545.02 134.26,545.02 134.76,546.63 135.26,550.49 135.76,554.36 136.26,555.96 137.13,555.93 138.01,555.84 138.88,555.72 139.75,555.6 140.63,555.51 141.5,555.48 141.5,555.48 142,557.05 142.5,560.83 143,564.62 143.5,566.19 144.37,566.16 145.25,566.07 146.12,565.95 146.99,565.83 147.87,565.74 148.74,565.71 148.74,565.71 149.24,567.24 149.74,570.94 150.24,574.64 150.74,576.18 151.61,576.14 152.49,576.06 153.36,575.94 154.23,575.82 155.11,575.74 155.98,575.7 155.98,575.7 156.48,577.2 156.98,580.81 157.48,584.42 157.98,585.91 158.85,585.88 159.73,585.79 160.6,585.68 161.47,585.56 162.35,585.47 163.22,585.44 163.22,585.44 163.72,586.9 164.22,590.42 164.72,593.93 165.22,595.39 166.09,595.36 166.97,595.27 167.84,595.16 168.71,595.04 169.59,594.95 170.46,594.92 170.46,594.92 170.96,596.34 171.46,599.76 171.96,603.19 172.46,604.61 173.33,604.57 174.21,604.49 175.08,604.37 175.95,604.25 176.83,604.17 177.7,604.14 177.7,604.14 178.2,605.52 178.7,608.85 179.2,612.18 179.7,613.56 180.57,613.53 181.45,613.44 182.32,613.32 183.19,613.21 184.07,613.12 184.94,613.09 184.94,613.09 185.44,614.43 185.94,617.67 186.44,620.91 186.94,622.26 187.81,622.22 188.69,622.14 189.56,622.02 190.43,621.9 191.31,621.81 192.18,621.78 192.18,621.78 192.68,623.09 193.18,626.24 193.68,629.39 193.8,629.7" fill="none" stroke="#cc1c1c" stroke-width="1.75" stroke-linejoin="round" stroke-linecap="butt"/>
<polyline points="214.2,647.08 214.4,647.56 214.9,650.46 215.4,653.37 215.9,654.57 216.77,654.54 217.65,654.45 218.52,654.32 219.39,654.2 220.27,654.11 221.14,654.08 221.14,654.08 221.64,655.25 222.14,658.08 222.64,660.9 223.14,662.07 224.01,662.04 224.89,661.95 225.76,661.82 226.63,661.7 227.51,661.61 228.38,661.58 228.38,661.58 228.88,662.72 229.38,665.47 229.88,668.22 230.38,669.36 231.25,669.33 232.13,669.24 233,669.11 233.87,668.99 234.75,668.9 235.62,668.86 235.62,668.86 236.12,669.97 236.62,672.66 237.12,675.34 237.62,676.45 238.49,676.41 239.37,676.32 240.24,676.2 241.11,676.07 241.99,675.98 242.86,675.94 242.86,675.94 243.36,677.03 243.86,679.64 244.36,682.26 244.86,683.34 245.73,683.31 246.61,683.21 247.48,683.08 248.35,682.96 249.23,682.86 250.1,682.83 250.1,682.83 250.6,683.89 251.1,686.44 251.6,688.99 252.1,690.05 252.97,690.01 253.85,689.92 254.72,689.79 255.59,689.66 256.47,689.57 257.34,689.53 257.34,689.53 257.84,690.56 258.34,693.05 258.84,695.54 259.34,696.57 260.21,696.54 261.09,696.44 261.96,696.31 262.83,696.19 263.71,696.09 264.58,696.06 264.58,696.06 265.08,697.06 265.58,699.49 266.08,701.93 266.58,702.93 267.45,702.9 268.33,702.8 269.2,702.67 270.07,702.54 270.95,702.45 271.82,702.41 271.82,702.41 272.32,703.39 272.82,705.77 273.32,708.15 273.82,709.13 274.69,709.09 275.57,709 276.44,708.87 277.31,708.74 278.19,708.64 279.06,708.61 279.06,708.61 279.56,709.57 280.06,711.89 280.56,714.21 281.06,715.17 281.93,715.26 282.81,715.51 283.68,715.84 284.55,716.18 285.43,716.43 286.3,716.52 286.3,716.52 286.8,716.91 287.3,717.86 287.8,718.81 288.3,719.2 289.17,719.15 290.05,719.01 290.92,718.82 291.79,718.63 292.67,718.5 293.54,718.44 293.54,718.44 294.04,718.88 294.54,719.95 295.04,721.01 295.54,721.45 296.41,721.31 297.29,720.93 298.16,720.42 299.03,719.91 299.91,719.54 300.78,719.4 300.78,719.4 301.28,719.8 301.78,720.77 302.28,721.74 302.78,722.14 303.65,722 304.53,721.62 305.4,721.11 306.27,720.6 307.15,720.22 308.02,720.08 308.02,720.08 308.52,720.46 309.02,721.38 309.52,722.29 310.02,722.67 310.89,722.54 311.77,722.17 312.64,721.66 313.51,721.15 314.39,720.78 315.26,720.64 315.26,720.64 315.76,721.01 316.26,721.89 316.76,722.78 317.26,723.14 318.13,723.01 319.01,722.64 319.88,722.14 320.75,721.64 321.63,721.27 322.5,721.13 322.5,721.13 323,721.49 323.5,722.36 324,723.24 324.5,723.6 325.37,723.47 326.25,723.11 327.12,722.62 327.99,722.13 328.87,721.77 329.74,721.64 329.74,721.64 330.24,722 330.74,722.85 331.24,723.71 331.74,724.06 332.61,723.93 333.49,723.59 334.36,723.11 335.23,722.64 336.11,722.29 336.98,722.16 336.98,722.16 337.48,722.51 337.98,723.34 338.48,724.17 338.98,724.51 339.85,724.39 340.73,724.05 341.6,723.59 342.47,723.12 343.35,722.78 344.22,722.66 344.22,722.66 344.72,723 345.22,723.81 345.72,724.62 346.22,724.96 347.09,724.84 347.97,724.51 348.84,724.05 349.71,723.6 350.59,723.27 351.46,723.15 351.46,723.15 351.96,723.48 352.46,724.28 352.96,725.09 353.46,725.42 354.33,725.3 355.21,724.97 356.08,724.53 356.95,724.08 357.83,723.75 358.7,723.63 358.7,723.63 359.2,723.97 359.7,724.78 360.2,725.59 360.7,725.92 361.57,725.81 362.45,725.49 363.32,725.07 364.19,724.64 365.07,724.33 365.94,724.21 365.94,724.21 366.44,724.54 366.94,725.34 367.44,726.14 367.94,726.47 368.81,726.36 369.69,726.07 370.56,725.67 371.43,725.27 372.31,724.97 373.18,724.87 373.18,724.87 373.68,725.17 374.18,725.91 374.68,726.65 375.18,726.96 376.05,726.86 376.93,726.57 377.8,726.17 378.67,725.78 379.55,725.49 380.42,725.38 380.42,725.38 380.92,725.67 381.42,726.38 381.92,727.09 382.42,727.38 383.29,727.28 384.17,726.99 385.04,726.61 385.91,726.22 386.79,725.93 387.66,725.83 387.66,725.83 388.16,726.12 388.66,726.8 389.16,727.49 389.66,727.77 390.53,727.67 391.41,727.4 392.28,727.03 393.15,726.66 394.03,726.39 394.9,726.29 394.9,726.29 395.4,726.56 395.9,727.22 396.4,727.87 396.9,728.14 397.77,728.04 398.65,727.78 399.52,727.43 400.39,727.08 401.27,726.82 402.14,726.73 402.14,726.73 402.64,726.98 403.14,727.58 403.64,728.18 404.14,728.43 405.01,728.34 405.89,728.1 406.76,727.76 407.63,727.43 408.51,727.18 409.38,727.09 409.38,727.09 409.88,727.31 410.38,727.85 410.88,728.39 411.38,728.61 412.25,728.52 413.13,728.29 414,727.97 414.87,727.64 415.75,727.41 416.62,727.32 416.62,727.32 417.12,727.52 417.62,727.99 418.12,728.46 418.62,728.66 419.49,728.57 420.37,728.34 421.24,728.01 422.11,727.69 422.99,727.45 423.86,727.36 423.86,727.36 424.36,727.55 424.86,728 425.36,728.44 425.86,728.63 426.73,728.54 427.61,728.32 428.48,728 429.35,727.69 430.23,727.46 431.1,727.38 431.1,727.38 431.6,727.55 432.1,727.98 432.6,728.4 433.1,728.58 433.97,728.5 434.85,728.28 435.72,727.98 436.59,727.68 437.47,727.46 438.34,727.38 438.34,727.38 438.84,727.54 439.34,727.95 439.84,728.35 440.34,728.52 441.21,728.44 442.09,728.23 442.96,727.94 443.83,727.65 444.71,727.44 445.58,727.36 445.58,727.36 446.08,727.52 446.58,727.9 447.08,728.29 447.58,728.44 448.45,728.37 449.33,728.17 450.2,727.89 451.07,727.62 451.95,727.41 452.82,727.34 452.82,727.34 453.32,727.49 453.82,727.85 454.32,728.21 454.82,728.36 455.69,728.29 456.57,728.1 457.44,727.85 458.31,727.59 459.19,727.4 460.06,727.33 460.06,727.33 460.56,727.47 461.06,727.79 461.56,728.11 462.06,728.25 462.93,728.18 463.81,728 464.68,727.76 465.55,727.52 466.43,727.34 467.3,727.27 467.3,727.27 467.8,727.39 468.3,727.67 468.8,727.95 469.3,728.07 470.17,728.01 471.05,727.83 471.92,727.6 472.79,727.37 473.67,727.2 474.54,727.14 474.54,727.14 475.04,727.24 475.54,727.48 476.04,727.73 476.54,727.83 477.41,727.77 478.29,727.6 479.16,727.38 480.03,727.16 480.91,726.99 481.78,726.93 481.78,726.93 482.28,727.02 482.78,727.24 483.28,727.45 483.78,727.54 484.65,727.48 485.53,727.33 486.4,727.12 487.27,726.9 488.15,726.75 489.02,726.69 489.02,726.69 489.52,726.77 490.02,726.96 490.52,727.15 491.02,727.23 491.89,727.18 492.77,727.03 493.64,726.82" fill="none" stroke="#cc1c1c" stroke-width="1.75" stroke-linejoin="round" stroke-linecap="butt"/>
<polyline points="62.3,458 63.4,453 65.5,450.6 68.5,450.2 70.2,450.3 70.2,450.3 70.7,450.93 71.2,452.58 71.7,454.61 72.2,456.26 72.7,456.89 73.59,456.83 74.47,456.66 75.36,456.42 76.24,456.13 77.12,455.84 78.01,455.59 78.9,455.42 79.78,455.37 79.78,455.37 80.28,456.1 80.78,458.02 81.28,460.38 81.78,462.3 82.28,463.03 83.17,462.98 84.05,462.82 84.94,462.59 85.82,462.31 86.7,462.03 87.59,461.8 88.47,461.64 89.36,461.58 89.36,461.58 89.86,462.4 90.36,464.54 90.86,467.19 91.36,469.33 91.86,470.15 92.75,470.13 93.63,470.09 94.52,470.02 95.4,469.95 96.28,469.87 97.17,469.81 98.06,469.76 98.94,469.75 98.94,469.75 99.44,470.45 99.94,472.29 100.44,474.56 100.94,476.4 101.44,477.1 102.33,477.04 103.21,476.88 104.09,476.62 104.98,476.33 105.86,476.03 106.75,475.78 107.63,475.61 108.52,475.55 108.52,475.55 109.02,476.36 109.52,478.47 110.02,481.09 110.52,483.2 111.02,484.01 111.91,483.97 112.79,483.87 113.67,483.71 114.56,483.53 115.44,483.34 116.33,483.19 117.22,483.08 118.1,483.04 118.1,483.04 118.6,483.85 119.1,485.94 119.6,488.54 120.1,490.64 120.6,491.44 121.48,491.42 122.37,491.38 123.25,491.32 124.14,491.25 125.02,491.18 125.91,491.12 126.79,491.08 127.68,491.07 127.68,491.07 128.18,491.75 128.68,493.53 129.18,495.74 129.68,497.52 130.18,498.2 131.06,498.13 131.95,497.94 132.84,497.65 133.72,497.31 134.61,496.97 135.49,496.68 136.38,496.49 137.26,496.42 137.26,496.42 137.76,497.25 138.26,499.42 138.76,502.11 139.26,504.29 139.76,505.12 140.64,505.08 141.53,504.99 142.41,504.85 143.3,504.68 144.19,504.52 145.07,504.38 145.95,504.28 146.84,504.25 146.84,504.25 147.34,505.06 147.84,507.16 148.34,509.77 148.84,511.88 149.34,512.68 150.22,512.65 151.11,512.58 152,512.47 152.88,512.33 153.77,512.2 154.65,512.08 155.53,512.01 156.42,511.98 156.42,511.98 156.92,512.73 157.42,514.69 157.92,517.11 158.42,519.07 158.92,519.81 159.81,519.78 160.69,519.68 161.58,519.53 162.46,519.36 163.35,519.19 164.23,519.04 165.12,518.94 166,518.91 166,518.91 166.5,519.64 167,521.55 167.5,523.91 168,525.82 168.5,526.55 169.39,526.52 170.27,526.41 171.16,526.26 172.04,526.08 172.93,525.89 173.81,525.74 174.7,525.63 175.58,525.6 175.58,525.6 176.08,526.32 176.58,528.21 177.08,530.55 177.58,532.44 178.08,533.16 178.97,533.12 179.85,533.02 180.74,532.86 181.62,532.67 182.51,532.49 183.39,532.33 184.28,532.22 185.16,532.19 185.16,532.19 185.66,532.9 186.16,534.78 186.66,537.1 187.16,538.97 187.66,539.69 188.55,539.65 189.43,539.55 190.32,539.38 191.2,539.19 192.09,539.01 192.97,538.84 193.86,538.74 194.74,538.7 194.74,538.7 195.24,539.41 195.74,541.29 196.24,543.6 196.74,545.47 197.24,546.19 198.13,546.15 199.01,546.05 199.9,545.89 200.78,545.71 201.67,545.53 202.55,545.37 203.44,545.27 204.32,545.23 204.32,545.23 204.82,545.94 205.32,547.79 205.82,550.08 206.32,551.93 206.82,552.63 207.71,552.6 208.59,552.49 209.48,552.33 210.36,552.14 211.25,551.95 212.13,551.79 213.02,551.68 213.9,551.64 213.9,551.64 214.4,552.35 214.9,554.19 215.4,556.48 215.8,557.95" fill="none" stroke="#000" stroke-width="1.75" stroke-linejoin="round" stroke-linecap="butt"/>
<polyline points="263,586.05 263.3,587.23 263.8,588.82 264.3,589.42 265.19,589.39 266.07,589.29 266.96,589.15 267.84,588.98 268.73,588.81 269.61,588.67 270.5,588.57 271.38,588.54 271.38,588.54 271.88,589.12 272.38,590.66 272.88,592.55 273.38,594.08 273.88,594.67 274.77,594.64 275.65,594.54 276.54,594.39 277.42,594.22 278.31,594.05 279.19,593.9 280.08,593.8 280.96,593.77 280.96,593.77 281.46,594.34 281.96,595.82 282.46,597.65 282.96,599.14 283.46,599.7 284.35,599.67 285.23,599.57 286.12,599.42 287,599.25 287.89,599.07 288.77,598.92 289.66,598.83 290.54,598.79 290.54,598.79 291.04,599.34 291.54,600.78 292.04,602.56 292.54,604 293.04,604.55 293.93,604.52 294.81,604.42 295.7,604.27 296.58,604.09 297.47,603.91 298.35,603.76 299.24,603.66 300.12,603.63 300.12,603.63 300.62,604.16 301.12,605.57 301.62,607.3 302.12,608.71 302.62,609.24 303.51,609.21 304.39,609.1 305.28,608.95 306.16,608.77 307.05,608.59 307.93,608.44 308.82,608.34 309.7,608.3 309.7,608.3 310.2,608.83 310.7,610.2 311.2,611.9 311.7,613.27 312.2,613.8 313.09,613.76 313.97,613.66 314.86,613.5 315.74,613.32 316.63,613.14 317.51,612.98 318.4,612.88 319.28,612.84 319.28,612.84 319.78,613.36 320.28,614.71 320.78,616.38 321.28,617.73 321.78,618.25 322.67,618.21 323.55,618.11 324.44,617.95 325.32,617.77 326.21,617.59 327.09,617.44 327.98,617.34 328.86,617.3 328.86,617.3 329.36,617.81 329.86,619.13 330.36,620.77 330.86,622.09 331.36,622.6 332.25,622.56 333.13,622.46 334.01,622.31 334.9,622.13 335.79,621.95 336.67,621.8 337.56,621.7 338.44,621.66 338.44,621.66 338.94,622.16 339.44,623.45 339.94,625.05 340.44,626.34 340.94,626.83 341.82,626.8 342.71,626.7 343.59,626.55 344.48,626.37 345.37,626.2 346.25,626.05 347.13,625.95 348.02,625.91 348.02,625.91 348.52,626.39 349.02,627.65 349.52,629.2 350.02,630.45 350.52,630.93 351.4,630.9 352.29,630.8 353.17,630.65 354.06,630.48 354.94,630.3 355.83,630.15 356.71,630.05 357.6,630.02 357.6,630.02 358.1,630.48 358.6,631.69 359.1,633.19 359.6,634.4 360.1,634.87 360.98,634.83 361.87,634.73 362.75,634.59 363.64,634.42 364.52,634.24 365.41,634.1 366.29,634 367.18,633.97 367.18,633.97 367.68,634.41 368.18,635.57 368.68,637.01 369.18,638.17 369.68,638.61 370.56,638.58 371.45,638.48 372.33,638.34 373.22,638.17 374.1,638 374.99,637.86 375.87,637.77 376.76,637.73 376.76,637.73 377.26,638.15 377.76,639.25 378.26,640.61 378.76,641.71 379.26,642.13 380.14,642.1 381.03,642 381.91,641.85 382.8,641.68 383.68,641.5 384.57,641.36 385.45,641.26 386.34,641.22 386.34,641.22 386.84,641.63 387.34,642.68 387.84,643.98 388.34,645.03 388.84,645.44 389.72,645.4 390.61,645.3 391.49,645.14 392.38,644.96 393.26,644.78 394.15,644.62 395.03,644.52 395.92,644.48 395.92,644.48 396.42,644.88 396.92,645.91 397.42,647.18 397.92,648.21 398.42,648.6 399.3,648.57 400.19,648.46 401.07,648.3 401.96,648.1 402.84,647.91 403.73,647.75 404.61,647.64 405.5,647.6 405.5,647.6 406,648 406.5,649.03 407,650.3 407.5,651.33 408,651.72 408.88,651.68 409.77,651.57 410.65,651.4 411.54,651.2 412.42,651 413.31,650.83 414.19,650.72 415.08,650.68 415.08,650.68 415.58,651.08 416.08,652.13 416.58,653.43 417.08,654.48 417.58,654.88 418.46,654.84 419.35,654.73 420.23,654.56 421.12,654.36 422,654.16 422.89,654 423.77,653.88 424.66,653.84 424.66,653.84 425.16,654.25 425.66,655.32 426.16,656.65 426.66,657.72 427.16,658.13 428.04,658.09 428.93,657.98 429.81,657.82 430.7,657.63 431.58,657.44 432.47,657.28 433.35,657.17 434.24,657.13 434.24,657.13 434.74,657.54 435.24,658.61 435.74,659.94 436.24,661.01 436.74,661.42 437.62,661.38 438.51,661.28 439.39,661.12 440.28,660.94 441.16,660.75 442.05,660.6 442.93,660.49 443.82,660.46 443.82,660.46 444.32,660.86 444.82,661.91 445.32,663.21 445.82,664.26 446.32,664.66 447.2,664.63 448.09,664.53 448.97,664.38 449.86,664.2 450.74,664.02 451.63,663.87 452.51,663.77 453.4,663.73 453.4,663.73 453.9,664.12 454.4,665.14 454.9,666.39 455.4,667.4 455.9,667.79 456.78,667.76 457.67,667.65 458.55,667.5 459.44,667.32 460.32,667.13 461.21,666.98 462.09,666.88 462.98,666.84 462.98,666.84 463.48,667.22 463.98,668.21 464.48,669.43 464.98,670.42 465.48,670.8 466.36,670.76 467.25,670.66 468.13,670.51 469.02,670.32 469.9,670.14 470.79,669.99 471.67,669.88 472.56,669.85 472.56,669.85 473.06,670.22 473.56,671.18 474.06,672.38 474.56,673.35 475.06,673.72 475.94,673.68 476.83,673.58 477.71,673.42 478.6,673.24 479.48,673.06 480.37,672.9 481.25,672.8 482.14,672.76 482.14,672.76 482.64,673.12 483.14,674.07 483.64,675.23 484.14,676.18 484.64,676.54 485.52,676.5 486.41,676.4 487.29,676.24 488.18,676.06 489.06,675.88 489.95,675.73 490.83,675.62 491.72,675.59 491.72,675.59 492.22,675.94 492.72,676.86 493.22,677.99 493.72,678.91 494.22,679.26 495.1,679.23" fill="none" stroke="#000" stroke-width="1.75" stroke-linejoin="round" stroke-linecap="butt"/>
<polyline points="62,462.5 69.6,462.5" fill="none" stroke="#000" stroke-width="1.75" stroke-linejoin="round" stroke-linecap="butt"/>
<rect x="61.45" y="424.0" width="434.65" height="346.9" fill="none" stroke="#000" stroke-width="1.85" stroke-linejoin="round"/>
<path d="M90.47,770.9v-4.8M90.47,424.0v4.8M119.43,770.9v-4.8M119.43,424.0v4.8M148.4,770.9v-4.8M148.4,424.0v4.8M177.37,770.9v-4.8M177.37,424.0v4.8M206.33,770.9v-8.5M206.33,424.0v8.5M235.3,770.9v-4.8M235.3,424.0v4.8M264.27,770.9v-4.8M264.27,424.0v4.8M293.24,770.9v-4.8M293.24,424.0v4.8M322.2,770.9v-4.8M322.2,424.0v4.8M351.17,770.9v-8.5M351.17,424.0v8.5M380.14,770.9v-4.8M380.14,424.0v4.8M409.1,770.9v-4.8M409.1,424.0v4.8M438.07,770.9v-4.8M438.07,424.0v4.8M467.04,770.9v-4.8M467.04,424.0v4.8M61.45,755.67h4.8M496.1,755.67h-4.8M61.45,740.24h4.8M496.1,740.24h-4.8M61.45,724.81h4.8M496.1,724.81h-4.8M61.45,709.38h4.8M496.1,709.38h-4.8M61.45,693.95h8.5M496.1,693.95h-8.5M61.45,678.52h4.8M496.1,678.52h-4.8M61.45,663.09h4.8M496.1,663.09h-4.8M61.45,647.66h4.8M496.1,647.66h-4.8M61.45,632.23h4.8M496.1,632.23h-4.8M61.45,616.8h8.5M496.1,616.8h-8.5M61.45,601.37h4.8M496.1,601.37h-4.8M61.45,585.94h4.8M496.1,585.94h-4.8M61.45,570.51h4.8M496.1,570.51h-4.8M61.45,555.08h4.8M496.1,555.08h-4.8M61.45,539.65h8.5M496.1,539.65h-8.5M61.45,524.22h4.8M496.1,524.22h-4.8M61.45,508.79h4.8M496.1,508.79h-4.8M61.45,493.36h4.8M496.1,493.36h-4.8M61.45,477.93h4.8M496.1,477.93h-4.8M61.45,462.5h8.5M496.1,462.5h-8.5M61.45,447.07h4.8M496.1,447.07h-4.8M61.45,431.64h4.8M496.1,431.64h-4.8" stroke="#000" stroke-width="1.7" fill="none"/>
<g font-family="Liberation Sans, Arial, sans-serif" fill="#000" stroke="#000" stroke-width="0.22"><text x="25.00" y="76.50" font-size="21.50" textLength="30.97" lengthAdjust="spacingAndGlyphs"><tspan font-family="NanumGothic" stroke="#000" stroke-width="0.55">1</tspan>.0</text>
<text x="26.75" y="210.50" font-size="21.50" textLength="28.39" lengthAdjust="spacingAndGlyphs">0.5</text>
<text x="26.75" y="343.50" font-size="21.50" textLength="28.39" lengthAdjust="spacingAndGlyphs">0.0</text>
<text x="74.50" y="368.75" font-size="21.50" textLength="10.97" lengthAdjust="spacingAndGlyphs">0</text>
<text x="198.00" y="368.00" font-size="21.50" textLength="25.00" lengthAdjust="spacingAndGlyphs"><tspan font-family="NanumGothic" stroke="#000" stroke-width="0.55">1</tspan>0</text>
<text x="328.75" y="368.62" font-size="21.50" textLength="22.42" lengthAdjust="spacingAndGlyphs">20</text>
<text x="457.87" y="368.62" font-size="21.50" textLength="24.17" lengthAdjust="spacingAndGlyphs">30</text>
<text x="81.50" y="39.25" font-size="19.50" textLength="68.20" lengthAdjust="spacingAndGlyphs">Smooth</text>
<text x="264.75" y="70.20" font-size="21.50" font-family="Liberation Serif, Times New Roman, serif" font-style="italic" textLength="12.47" lengthAdjust="spacingAndGlyphs">T</text>
<text x="276.25" y="77.15" font-size="12.80">i</text>
<text x="285.75" y="70.37" font-size="20.50" textLength="51.23" lengthAdjust="spacingAndGlyphs">=20 s</text>
<text x="283.50" y="108.20" font-size="21.50" textLength="25.00" lengthAdjust="spacingAndGlyphs"><tspan font-family="NanumGothic" stroke="#000" stroke-width="0.55">1</tspan>0</text>
<text x="291.75" y="182.25" font-size="21.50" textLength="12.47" lengthAdjust="spacingAndGlyphs">5</text>
<text x="292.25" y="226.50" font-size="21.50" textLength="12.47" lengthAdjust="spacingAndGlyphs">3</text>
<text x="293.75" y="316.50" font-size="21.50"><tspan font-family="NanumGothic" stroke="#000" stroke-width="0.55">1</tspan></text>
<text x="372.50" y="171.75" font-size="19.50" textLength="109.19" lengthAdjust="spacingAndGlyphs">Roughening</text>
<text x="1.75" y="379.13" font-size="21.30" textLength="19.44" lengthAdjust="spacingAndGlyphs">a)</text>
<text x="170.25" y="390.25" font-size="21.50" textLength="162.02" lengthAdjust="spacingAndGlyphs">Passivation Time</text>
<text x="338.00" y="390.50" font-size="21.50" font-family="Liberation Serif, Times New Roman, serif" font-style="italic" textLength="11.97" lengthAdjust="spacingAndGlyphs">T</text>
<text x="350.25" y="397.25" font-size="13.00">p</text>
<text x="362.75" y="391.00" font-size="21.00" textLength="26.00" lengthAdjust="spacingAndGlyphs">(s)</text>
<text transform="translate(16.25,243.25) rotate(-90)" font-size="20.50" textLength="140.89" lengthAdjust="spacingAndGlyphs">EPC (nm/cycle)</text>
<text x="33.00" y="470.00" font-size="21.50" textLength="23.92" lengthAdjust="spacingAndGlyphs">25</text>
<text x="32.25" y="547.00" font-size="21.50" textLength="23.42" lengthAdjust="spacingAndGlyphs">20</text>
<text x="31.00" y="624.00" font-size="21.50" textLength="25.00" lengthAdjust="spacingAndGlyphs"><tspan font-family="NanumGothic" stroke="#000" stroke-width="0.55">1</tspan>5</text>
<text x="30.50" y="701.00" font-size="21.50" textLength="24.00" lengthAdjust="spacingAndGlyphs"><tspan font-family="NanumGothic" stroke="#000" stroke-width="0.55">1</tspan>0</text>
<text x="43.50" y="777.95" font-size="21.50" textLength="10.97" lengthAdjust="spacingAndGlyphs">5</text>
<text x="55.25" y="790.00" font-size="21.50" textLength="12.47" lengthAdjust="spacingAndGlyphs">0</text>
<text x="187.75" y="790.75" font-size="21.50" textLength="37.37" lengthAdjust="spacingAndGlyphs">500</text>
<text x="327.00" y="790.00" font-size="21.50" textLength="48.91" lengthAdjust="spacingAndGlyphs"><tspan font-family="NanumGothic" stroke="#000" stroke-width="0.55">1</tspan>000</text>
<text x="470.75" y="790.00" font-size="21.50" textLength="46.41" lengthAdjust="spacingAndGlyphs"><tspan font-family="NanumGothic" stroke="#000" stroke-width="0.55">1</tspan>500</text>
<text x="397.25" y="464.75" font-size="21.50" font-family="Liberation Serif, Times New Roman, serif" font-style="italic" textLength="12.47" lengthAdjust="spacingAndGlyphs">T</text>
<text x="409.50" y="471.25" font-size="12.80">i</text>
<text x="419.25" y="465.00" font-size="21.00" textLength="48.63" lengthAdjust="spacingAndGlyphs">= 5 s</text>
<text x="202.50" y="576.30" font-size="21.50" font-family="Liberation Serif, Times New Roman, serif" font-style="italic" textLength="11.97" lengthAdjust="spacingAndGlyphs">T</text>
<text x="214.00" y="581.50" font-size="13.00">p</text>
<text x="227.00" y="575.63" font-size="21.00" textLength="57.80" lengthAdjust="spacingAndGlyphs">= 30 s</text>
<text x="189.00" y="644.20" font-size="21.50" textLength="23.92" lengthAdjust="spacingAndGlyphs">20</text>
<text x="173.37" y="679.50" font-size="21.50" textLength="25.25" lengthAdjust="spacingAndGlyphs"><tspan font-family="NanumGothic" stroke="#000" stroke-width="0.55">1</tspan>5</text>
<text x="157.75" y="709.50" font-size="21.50" textLength="24.50" lengthAdjust="spacingAndGlyphs"><tspan font-family="NanumGothic" stroke="#000" stroke-width="0.55">1</tspan>0</text>
<text x="146.25" y="737.40" font-size="21.50" textLength="11.47" lengthAdjust="spacingAndGlyphs">5</text>
<text x="2.25" y="801.00" font-size="21.50" textLength="19.62" lengthAdjust="spacingAndGlyphs">b)</text>
<text x="240.00" y="811.45" font-size="21.00" textLength="76.22" lengthAdjust="spacingAndGlyphs">Time (s)</text>
<text transform="translate(17.75,653.00) rotate(-90)" font-size="21.50" textLength="112.31" lengthAdjust="spacingAndGlyphs">Height (nm)</text></g>
</svg>
</body></html>
